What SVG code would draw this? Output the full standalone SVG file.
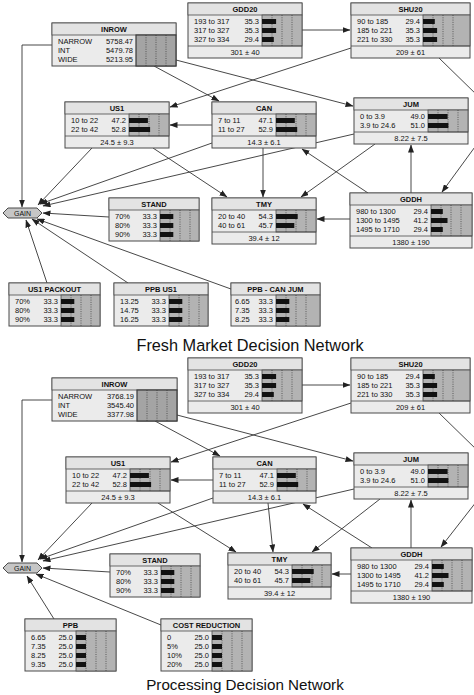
<svg xmlns="http://www.w3.org/2000/svg" width="474" height="695" viewBox="0 0 474 695">
<defs>
<marker id="ah" markerUnits="userSpaceOnUse" markerWidth="8" markerHeight="6" refX="7.5" refY="3" orient="auto"><path d="M0,0 L8,3 L0,6 z" fill="#222"/></marker>
<style>
.box{fill:#ebebeb;stroke:#4a4a4a;stroke-width:1}
.tb{fill:#e3e3e3;stroke:#4a4a4a;stroke-width:0.8}
.ba{fill:#b3b3b3;stroke:#4a4a4a;stroke-width:0.8}
.bu{fill:#a4a4a4;stroke:#3a3a3a;stroke-width:1.2}
.sep{stroke:#4a4a4a;stroke-width:0.8}
.bar{fill:#111}
.dot{stroke:#333;stroke-width:0.7;stroke-dasharray:1 1.3}
.t{font-family:"Liberation Sans",Arial,sans-serif;font-size:7.5px;fill:#111}
.tt{font-weight:bold;text-anchor:middle}
.v{text-anchor:end}
.f{text-anchor:middle}
.cap{font-family:"Liberation Sans",Arial,sans-serif;fill:#111;text-anchor:middle}
.e{fill:none;stroke:#333;stroke-width:0.9;marker-end:url(#ah)}
.hex{fill:#c6c6c6;stroke:#4a4a4a;stroke-width:1}
</style>
</defs>

<g id="connectors">
<path class="e" d="M52,45 H22 V207"/>
<path class="e" d="M154,66 L219,101"/>
<path class="e" d="M176,60 L353,106"/>
<path class="e" d="M351,48 L170,107"/>
<path class="e" d="M302,30 L350,30"/>
<path class="e" d="M438,57 L480,98 L480,140 L442,192"/>
<path class="e" d="M212,125 L170,125"/>
<path class="e" d="M92,148 L38,205"/>
<path class="e" d="M212,143 L40,204"/>
<path class="e" d="M354,134 L43,206"/>
<path class="e" d="M153,148 L227,197"/>
<path class="e" d="M263,148 L263,197"/>
<path class="e" d="M375,144 L301,197"/>
<path class="e" d="M368,193 L302,149"/>
<path class="e" d="M411,193 L411,145"/>
<path class="e" d="M350,219 L317,219"/>
<path class="e" d="M109,217 L43,213"/>
<path class="e" d="M47,283 L26,220"/>
<path class="e" d="M128,283 L32,219"/>
<path class="e" d="M231,289 L37,219"/>

<path class="e" d="M52,400 H22 V562"/>
<path class="e" d="M155,421 L220,456"/>
<path class="e" d="M177,415 L353,461"/>
<path class="e" d="M351,403 L171,462"/>
<path class="e" d="M302,385 L350,385"/>
<path class="e" d="M438,412 L480,453 L480,497 L441,547"/>
<path class="e" d="M213,480 L171,480"/>
<path class="e" d="M92,503 L38,560"/>
<path class="e" d="M213,498 L40,559"/>
<path class="e" d="M354,489 L43,561"/>
<path class="e" d="M158,503 L236,552"/>
<path class="e" d="M268,503 L273,552"/>
<path class="e" d="M380,499 L312,552"/>
<path class="e" d="M372,548 L303,504"/>
<path class="e" d="M411,548 L411,500"/>
<path class="e" d="M351,574 L332,574"/>
<path class="e" d="M110,572 L43,568"/>
<path class="e" d="M54,619 L27,576"/>
<path class="e" d="M161,625 L36,574"/>
</g>

<!-- ===== Fresh Market network ===== -->
<g id="inrow-fresh" transform="translate(52,23)">
<rect class="box" width="124" height="43"/><rect class="tb" width="124" height="12"/>
<text class="t tt" x="62" y="8.8">INROW</text>
<rect class="bu" x="84" y="12" width="40" height="31"/>
<line class="dot" x1="94" y1="12" x2="94" y2="43"/><line class="dot" x1="104" y1="12" x2="104" y2="43"/><line class="dot" x1="114" y1="12" x2="114" y2="43"/>
<text class="t" x="6" y="21.2">NARROW</text><text class="t v" x="81" y="21.2">5758.47</text>
<text class="t" x="6" y="30.2">INT</text><text class="t v" x="81" y="30.2">5479.78</text>
<text class="t" x="6" y="39.2">WIDE</text><text class="t v" x="81" y="39.2">5213.95</text>
</g>

<g id="gdd20-fresh" transform="translate(188,3)">
<rect class="box" width="114" height="55"/><rect class="tb" width="114" height="12"/>
<text class="t tt" x="57" y="8.8">GDD20</text>
<rect class="ba" x="74" y="12" width="40" height="31"/>
<line class="dot" x1="84" y1="12" x2="84" y2="43"/><line class="dot" x1="94" y1="12" x2="94" y2="43"/><line class="dot" x1="104" y1="12" x2="104" y2="43"/>
<rect class="bar" x="74" y="16" width="14.1" height="5"/><rect class="bar" x="74" y="25" width="14.1" height="5"/><rect class="bar" x="74" y="34" width="11.8" height="5"/>
<text class="t" x="6" y="21.2">193 to 317</text><text class="t v" x="71" y="21.2">35.3</text>
<text class="t" x="6" y="30.2">317 to 327</text><text class="t v" x="71" y="30.2">35.3</text>
<text class="t" x="6" y="39.2">327 to 334</text><text class="t v" x="71" y="39.2">29.4</text>
<line class="sep" x1="0" y1="43" x2="114" y2="43"/>
<text class="t f" x="57" y="51.5">301 ± 40</text>
</g>

<g id="shu20-fresh" transform="translate(351,3)">
<rect class="box" width="119" height="55"/><rect class="tb" width="119" height="12"/>
<text class="t tt" x="59.5" y="8.8">SHU20</text>
<rect class="ba" x="72" y="12" width="47" height="31"/>
<line class="dot" x1="82" y1="12" x2="82" y2="43"/><line class="dot" x1="92" y1="12" x2="92" y2="43"/><line class="dot" x1="102" y1="12" x2="102" y2="43"/>
<rect class="bar" x="72" y="16" width="11.8" height="5"/><rect class="bar" x="72" y="25" width="14.1" height="5"/><rect class="bar" x="72" y="34" width="14.1" height="5"/>
<text class="t" x="6" y="21.2">90 to 185</text><text class="t v" x="69" y="21.2">29.4</text>
<text class="t" x="6" y="30.2">185 to 221</text><text class="t v" x="69" y="30.2">35.3</text>
<text class="t" x="6" y="39.2">221 to 330</text><text class="t v" x="69" y="39.2">35.3</text>
<line class="sep" x1="0" y1="43" x2="119" y2="43"/>
<text class="t f" x="59.5" y="51.5">209 ± 61</text>
</g>

<g id="us1-fresh" transform="translate(65,102)">
<rect class="box" width="104" height="46"/><rect class="tb" width="104" height="12"/>
<text class="t tt" x="52" y="8.8">US1</text>
<rect class="ba" x="64" y="12" width="40" height="22"/>
<line class="dot" x1="74" y1="12" x2="74" y2="34"/><line class="dot" x1="84" y1="12" x2="84" y2="34"/><line class="dot" x1="94" y1="12" x2="94" y2="34"/>
<rect class="bar" x="64" y="16" width="18.9" height="5"/><rect class="bar" x="64" y="25" width="21.1" height="5"/>
<text class="t" x="6" y="21.2">10 to 22</text><text class="t v" x="61" y="21.2">47.2</text>
<text class="t" x="6" y="30.2">22 to 42</text><text class="t v" x="61" y="30.2">52.8</text>
<line class="sep" x1="0" y1="34" x2="104" y2="34"/>
<text class="t f" x="52" y="42.5">24.5 ± 9.3</text>
</g>

<g id="can-fresh" transform="translate(212,102)">
<rect class="box" width="104" height="46"/><rect class="tb" width="104" height="12"/>
<text class="t tt" x="52" y="8.8">CAN</text>
<rect class="ba" x="64" y="12" width="40" height="22"/>
<line class="dot" x1="74" y1="12" x2="74" y2="34"/><line class="dot" x1="84" y1="12" x2="84" y2="34"/><line class="dot" x1="94" y1="12" x2="94" y2="34"/>
<rect class="bar" x="64" y="16" width="18.8" height="5"/><rect class="bar" x="64" y="25" width="21.2" height="5"/>
<text class="t" x="6" y="21.2">7 to 11</text><text class="t v" x="61" y="21.2">47.1</text>
<text class="t" x="6" y="30.2">11 to 27</text><text class="t v" x="61" y="30.2">52.9</text>
<line class="sep" x1="0" y1="34" x2="104" y2="34"/>
<text class="t f" x="52" y="42.5">14.3 ± 6.1</text>
</g>

<g id="jum-fresh" transform="translate(354,98)">
<rect class="box" width="114" height="46"/><rect class="tb" width="114" height="12"/>
<text class="t tt" x="57" y="8.8">JUM</text>
<rect class="ba" x="74" y="12" width="40" height="22"/>
<line class="dot" x1="84" y1="12" x2="84" y2="34"/><line class="dot" x1="94" y1="12" x2="94" y2="34"/><line class="dot" x1="104" y1="12" x2="104" y2="34"/>
<rect class="bar" x="74" y="16" width="19.6" height="5"/><rect class="bar" x="74" y="25" width="20.4" height="5"/>
<text class="t" x="6" y="21.2">0 to 3.9</text><text class="t v" x="71" y="21.2">49.0</text>
<text class="t" x="6" y="30.2">3.9 to 24.6</text><text class="t v" x="71" y="30.2">51.0</text>
<line class="sep" x1="0" y1="34" x2="114" y2="34"/>
<text class="t f" x="57" y="42.5">8.22 ± 7.5</text>
</g>

<g id="stand-fresh" transform="translate(109,198)">
<rect class="box" width="90" height="43"/><rect class="tb" width="90" height="12"/>
<text class="t tt" x="45" y="8.8">STAND</text>
<rect class="ba" x="51" y="12" width="39" height="31"/>
<line class="dot" x1="61" y1="12" x2="61" y2="43"/><line class="dot" x1="71" y1="12" x2="71" y2="43"/><line class="dot" x1="81" y1="12" x2="81" y2="43"/>
<rect class="bar" x="51" y="16" width="13.3" height="5"/><rect class="bar" x="51" y="25" width="13.3" height="5"/><rect class="bar" x="51" y="34" width="13.3" height="5"/>
<text class="t" x="6" y="21.2">70%</text><text class="t v" x="48" y="21.2">33.3</text>
<text class="t" x="6" y="30.2">80%</text><text class="t v" x="48" y="30.2">33.3</text>
<text class="t" x="6" y="39.2">90%</text><text class="t v" x="48" y="39.2">33.3</text>
</g>

<g id="tmy-fresh" transform="translate(212,198)">
<rect class="box" width="104" height="46"/><rect class="tb" width="104" height="12"/>
<text class="t tt" x="52" y="8.8">TMY</text>
<rect class="ba" x="64" y="12" width="40" height="22"/>
<line class="dot" x1="74" y1="12" x2="74" y2="34"/><line class="dot" x1="84" y1="12" x2="84" y2="34"/><line class="dot" x1="94" y1="12" x2="94" y2="34"/>
<rect class="bar" x="64" y="16" width="21.7" height="5"/><rect class="bar" x="64" y="25" width="18.3" height="5"/>
<text class="t" x="6" y="21.2">20 to 40</text><text class="t v" x="61" y="21.2">54.3</text>
<text class="t" x="6" y="30.2">40 to 61</text><text class="t v" x="61" y="30.2">45.7</text>
<line class="sep" x1="0" y1="34" x2="104" y2="34"/>
<text class="t f" x="52" y="42.5">39.4 ± 12</text>
</g>

<g id="gddh-fresh" transform="translate(350,193)">
<rect class="box" width="122" height="55"/><rect class="tb" width="122" height="12"/>
<text class="t tt" x="61" y="8.8">GDDH</text>
<rect class="ba" x="81" y="12" width="41" height="31"/>
<line class="dot" x1="91" y1="12" x2="91" y2="43"/><line class="dot" x1="101" y1="12" x2="101" y2="43"/><line class="dot" x1="111" y1="12" x2="111" y2="43"/>
<rect class="bar" x="81" y="16" width="11.8" height="5"/><rect class="bar" x="81" y="25" width="16.5" height="5"/><rect class="bar" x="81" y="34" width="11.8" height="5"/>
<text class="t" x="6" y="21.2">980 to 1300</text><text class="t v" x="78" y="21.2">29.4</text>
<text class="t" x="6" y="30.2">1300 to 1495</text><text class="t v" x="78" y="30.2">41.2</text>
<text class="t" x="6" y="39.2">1495 to 1710</text><text class="t v" x="78" y="39.2">29.4</text>
<line class="sep" x1="0" y1="43" x2="122" y2="43"/>
<text class="t f" x="61" y="51.5">1380 ± 190</text>
</g>

<g id="gain-fresh">
<polygon class="hex" points="3,213 8,208 37,208 42,213 37,218 8,218"/>
<text class="t f" x="22.5" y="215.7" style="font-size:7px">GAIN</text>
</g>

<g id="us1packout-fresh" transform="translate(9,283)">
<rect class="box" width="91" height="43"/><rect class="tb" width="91" height="12"/>
<text class="t tt" x="45.5" y="8.8">US1 PACKOUT</text>
<rect class="ba" x="52" y="12" width="39" height="31"/>
<line class="dot" x1="62" y1="12" x2="62" y2="43"/><line class="dot" x1="72" y1="12" x2="72" y2="43"/><line class="dot" x1="82" y1="12" x2="82" y2="43"/>
<rect class="bar" x="52" y="16" width="13.3" height="5"/><rect class="bar" x="52" y="25" width="13.3" height="5"/><rect class="bar" x="52" y="34" width="13.3" height="5"/>
<text class="t" x="6" y="21.2">70%</text><text class="t v" x="49" y="21.2">33.3</text>
<text class="t" x="6" y="30.2">80%</text><text class="t v" x="49" y="30.2">33.3</text>
<text class="t" x="6" y="39.2">90%</text><text class="t v" x="49" y="39.2">33.3</text>
</g>

<g id="ppbus1-fresh" transform="translate(114,283)">
<rect class="box" width="94" height="43"/><rect class="tb" width="94" height="12"/>
<text class="t tt" x="47" y="8.8">PPB US1</text>
<rect class="ba" x="55" y="12" width="39" height="31"/>
<line class="dot" x1="65" y1="12" x2="65" y2="43"/><line class="dot" x1="75" y1="12" x2="75" y2="43"/><line class="dot" x1="85" y1="12" x2="85" y2="43"/>
<rect class="bar" x="55" y="16" width="13.3" height="5"/><rect class="bar" x="55" y="25" width="13.3" height="5"/><rect class="bar" x="55" y="34" width="13.3" height="5"/>
<text class="t" x="6" y="21.2">13.25</text><text class="t v" x="52" y="21.2">33.3</text>
<text class="t" x="6" y="30.2">14.75</text><text class="t v" x="52" y="30.2">33.3</text>
<text class="t" x="6" y="39.2">16.25</text><text class="t v" x="52" y="39.2">33.3</text>
</g>

<g id="ppbcanjum-fresh" transform="translate(231,283)">
<rect class="box" width="89" height="43"/><rect class="tb" width="89" height="12"/>
<text class="t tt" x="44.5" y="8.8">PPB - CAN JUM</text>
<rect class="ba" x="45" y="12" width="44" height="31"/>
<line class="dot" x1="55" y1="12" x2="55" y2="43"/><line class="dot" x1="65" y1="12" x2="65" y2="43"/><line class="dot" x1="75" y1="12" x2="75" y2="43"/>
<rect class="bar" x="45" y="16" width="13.3" height="5"/><rect class="bar" x="45" y="25" width="13.3" height="5"/><rect class="bar" x="45" y="34" width="13.3" height="5"/>
<text class="t" x="4" y="21.2">6.65</text><text class="t v" x="42" y="21.2">33.3</text>
<text class="t" x="4" y="30.2">7.35</text><text class="t v" x="42" y="30.2">33.3</text>
<text class="t" x="4" y="39.2">8.25</text><text class="t v" x="42" y="39.2">33.3</text>
</g>

<text class="cap" x="250" y="351" style="font-size:16.3px">Fresh Market Decision Network</text>

<!-- ===== Processing network ===== -->
<g id="inrow-proc" transform="translate(52,378)">
<rect class="box" width="125" height="43"/><rect class="tb" width="125" height="12"/>
<text class="t tt" x="62.5" y="8.8">INROW</text>
<rect class="bu" x="85" y="12" width="40" height="31"/>
<line class="dot" x1="95" y1="12" x2="95" y2="43"/><line class="dot" x1="105" y1="12" x2="105" y2="43"/><line class="dot" x1="115" y1="12" x2="115" y2="43"/>
<text class="t" x="6" y="21.2">NARROW</text><text class="t v" x="82" y="21.2">3768.19</text>
<text class="t" x="6" y="30.2">INT</text><text class="t v" x="82" y="30.2">3545.40</text>
<text class="t" x="6" y="39.2">WIDE</text><text class="t v" x="82" y="39.2">3377.98</text>
</g>

<g id="gdd20-proc" transform="translate(188,358)">
<rect class="box" width="114" height="55"/><rect class="tb" width="114" height="12"/>
<text class="t tt" x="57" y="8.8">GDD20</text>
<rect class="ba" x="74" y="12" width="40" height="31"/>
<line class="dot" x1="84" y1="12" x2="84" y2="43"/><line class="dot" x1="94" y1="12" x2="94" y2="43"/><line class="dot" x1="104" y1="12" x2="104" y2="43"/>
<rect class="bar" x="74" y="16" width="14.1" height="5"/><rect class="bar" x="74" y="25" width="14.1" height="5"/><rect class="bar" x="74" y="34" width="11.8" height="5"/>
<text class="t" x="6" y="21.2">193 to 317</text><text class="t v" x="71" y="21.2">35.3</text>
<text class="t" x="6" y="30.2">317 to 327</text><text class="t v" x="71" y="30.2">35.3</text>
<text class="t" x="6" y="39.2">327 to 334</text><text class="t v" x="71" y="39.2">29.4</text>
<line class="sep" x1="0" y1="43" x2="114" y2="43"/>
<text class="t f" x="57" y="51.5">301 ± 40</text>
</g>

<g id="shu20-proc" transform="translate(351,358)">
<rect class="box" width="119" height="55"/><rect class="tb" width="119" height="12"/>
<text class="t tt" x="59.5" y="8.8">SHU20</text>
<rect class="ba" x="72" y="12" width="47" height="31"/>
<line class="dot" x1="82" y1="12" x2="82" y2="43"/><line class="dot" x1="92" y1="12" x2="92" y2="43"/><line class="dot" x1="102" y1="12" x2="102" y2="43"/>
<rect class="bar" x="72" y="16" width="11.8" height="5"/><rect class="bar" x="72" y="25" width="14.1" height="5"/><rect class="bar" x="72" y="34" width="14.1" height="5"/>
<text class="t" x="6" y="21.2">90 to 185</text><text class="t v" x="69" y="21.2">29.4</text>
<text class="t" x="6" y="30.2">185 to 221</text><text class="t v" x="69" y="30.2">35.3</text>
<text class="t" x="6" y="39.2">221 to 330</text><text class="t v" x="69" y="39.2">35.3</text>
<line class="sep" x1="0" y1="43" x2="119" y2="43"/>
<text class="t f" x="59.5" y="51.5">209 ± 61</text>
</g>

<g id="us1-proc" transform="translate(66,457)">
<rect class="box" width="104" height="46"/><rect class="tb" width="104" height="12"/>
<text class="t tt" x="52" y="8.8">US1</text>
<rect class="ba" x="64" y="12" width="40" height="22"/>
<line class="dot" x1="74" y1="12" x2="74" y2="34"/><line class="dot" x1="84" y1="12" x2="84" y2="34"/><line class="dot" x1="94" y1="12" x2="94" y2="34"/>
<rect class="bar" x="64" y="16" width="18.9" height="5"/><rect class="bar" x="64" y="25" width="21.1" height="5"/>
<text class="t" x="6" y="21.2">10 to 22</text><text class="t v" x="61" y="21.2">47.2</text>
<text class="t" x="6" y="30.2">22 to 42</text><text class="t v" x="61" y="30.2">52.8</text>
<line class="sep" x1="0" y1="34" x2="104" y2="34"/>
<text class="t f" x="52" y="42.5">24.5 ± 9.3</text>
</g>

<g id="can-proc" transform="translate(213,457)">
<rect class="box" width="103" height="46"/><rect class="tb" width="103" height="12"/>
<text class="t tt" x="51.5" y="8.8">CAN</text>
<rect class="ba" x="64" y="12" width="39" height="22"/>
<line class="dot" x1="74" y1="12" x2="74" y2="34"/><line class="dot" x1="84" y1="12" x2="84" y2="34"/><line class="dot" x1="94" y1="12" x2="94" y2="34"/>
<rect class="bar" x="64" y="16" width="18.8" height="5"/><rect class="bar" x="64" y="25" width="21.2" height="5"/>
<text class="t" x="6" y="21.2">7 to 11</text><text class="t v" x="61" y="21.2">47.1</text>
<text class="t" x="6" y="30.2">11 to 27</text><text class="t v" x="61" y="30.2">52.9</text>
<line class="sep" x1="0" y1="34" x2="103" y2="34"/>
<text class="t f" x="51.5" y="42.5">14.3 ± 6.1</text>
</g>

<g id="jum-proc" transform="translate(354,453)">
<rect class="box" width="114" height="46"/><rect class="tb" width="114" height="12"/>
<text class="t tt" x="57" y="8.8">JUM</text>
<rect class="ba" x="74" y="12" width="40" height="22"/>
<line class="dot" x1="84" y1="12" x2="84" y2="34"/><line class="dot" x1="94" y1="12" x2="94" y2="34"/><line class="dot" x1="104" y1="12" x2="104" y2="34"/>
<rect class="bar" x="74" y="16" width="19.6" height="5"/><rect class="bar" x="74" y="25" width="20.4" height="5"/>
<text class="t" x="6" y="21.2">0 to 3.9</text><text class="t v" x="71" y="21.2">49.0</text>
<text class="t" x="6" y="30.2">3.9 to 24.6</text><text class="t v" x="71" y="30.2">51.0</text>
<line class="sep" x1="0" y1="34" x2="114" y2="34"/>
<text class="t f" x="57" y="42.5">8.22 ± 7.5</text>
</g>

<g id="stand-proc" transform="translate(110,554)">
<rect class="box" width="90" height="43"/><rect class="tb" width="90" height="12"/>
<text class="t tt" x="45" y="8.8">STAND</text>
<rect class="ba" x="51" y="12" width="39" height="31"/>
<line class="dot" x1="61" y1="12" x2="61" y2="43"/><line class="dot" x1="71" y1="12" x2="71" y2="43"/><line class="dot" x1="81" y1="12" x2="81" y2="43"/>
<rect class="bar" x="51" y="16" width="13.3" height="5"/><rect class="bar" x="51" y="25" width="13.3" height="5"/><rect class="bar" x="51" y="34" width="13.3" height="5"/>
<text class="t" x="6" y="21.2">70%</text><text class="t v" x="48" y="21.2">33.3</text>
<text class="t" x="6" y="30.2">80%</text><text class="t v" x="48" y="30.2">33.3</text>
<text class="t" x="6" y="39.2">90%</text><text class="t v" x="48" y="39.2">33.3</text>
</g>

<g id="tmy-proc" transform="translate(228,553)">
<rect class="box" width="103" height="46"/><rect class="tb" width="103" height="12"/>
<text class="t tt" x="51.5" y="8.8">TMY</text>
<rect class="ba" x="64" y="12" width="39" height="22"/>
<line class="dot" x1="74" y1="12" x2="74" y2="34"/><line class="dot" x1="84" y1="12" x2="84" y2="34"/><line class="dot" x1="94" y1="12" x2="94" y2="34"/>
<rect class="bar" x="64" y="16" width="21.7" height="5"/><rect class="bar" x="64" y="25" width="18.3" height="5"/>
<text class="t" x="6" y="21.2">20 to 40</text><text class="t v" x="61" y="21.2">54.3</text>
<text class="t" x="6" y="30.2">40 to 61</text><text class="t v" x="61" y="30.2">45.7</text>
<line class="sep" x1="0" y1="34" x2="103" y2="34"/>
<text class="t f" x="51.5" y="42.5">39.4 ± 12</text>
</g>

<g id="gddh-proc" transform="translate(351,548)">
<rect class="box" width="121" height="55"/><rect class="tb" width="121" height="12"/>
<text class="t tt" x="60.5" y="8.8">GDDH</text>
<rect class="ba" x="81" y="12" width="40" height="31"/>
<line class="dot" x1="91" y1="12" x2="91" y2="43"/><line class="dot" x1="101" y1="12" x2="101" y2="43"/><line class="dot" x1="111" y1="12" x2="111" y2="43"/>
<rect class="bar" x="81" y="16" width="11.8" height="5"/><rect class="bar" x="81" y="25" width="16.5" height="5"/><rect class="bar" x="81" y="34" width="11.8" height="5"/>
<text class="t" x="6" y="21.2">980 to 1300</text><text class="t v" x="78" y="21.2">29.4</text>
<text class="t" x="6" y="30.2">1300 to 1495</text><text class="t v" x="78" y="30.2">41.2</text>
<text class="t" x="6" y="39.2">1495 to 1710</text><text class="t v" x="78" y="39.2">29.4</text>
<line class="sep" x1="0" y1="43" x2="121" y2="43"/>
<text class="t f" x="60.5" y="51.5">1380 ± 190</text>
</g>

<g id="gain-proc">
<polygon class="hex" points="3,568 8,563 37,563 42,568 37,573 8,573"/>
<text class="t f" x="22.5" y="570.7" style="font-size:7px">GAIN</text>
</g>

<g id="ppb-proc" transform="translate(25,619)">
<rect class="box" width="91" height="52"/><rect class="tb" width="91" height="12"/>
<text class="t tt" x="45.5" y="8.8">PPB</text>
<rect class="ba" x="51" y="12" width="40" height="40"/>
<line class="dot" x1="61" y1="12" x2="61" y2="52"/><line class="dot" x1="71" y1="12" x2="71" y2="52"/><line class="dot" x1="81" y1="12" x2="81" y2="52"/>
<rect class="bar" x="51" y="16" width="10" height="5"/><rect class="bar" x="51" y="25" width="10" height="5"/><rect class="bar" x="51" y="34" width="10" height="5"/><rect class="bar" x="51" y="43" width="10" height="5"/>
<text class="t" x="6" y="21.2">6.65</text><text class="t v" x="48" y="21.2">25.0</text>
<text class="t" x="6" y="30.2">7.35</text><text class="t v" x="48" y="30.2">25.0</text>
<text class="t" x="6" y="39.2">8.25</text><text class="t v" x="48" y="39.2">25.0</text>
<text class="t" x="6" y="48.2">9.35</text><text class="t v" x="48" y="48.2">25.0</text>
</g>

<g id="costreduction-proc" transform="translate(161,619)">
<rect class="box" width="91" height="52"/><rect class="tb" width="91" height="12"/>
<text class="t tt" x="45.5" y="8.8">COST REDUCTION</text>
<rect class="ba" x="51" y="12" width="40" height="40"/>
<line class="dot" x1="61" y1="12" x2="61" y2="52"/><line class="dot" x1="71" y1="12" x2="71" y2="52"/><line class="dot" x1="81" y1="12" x2="81" y2="52"/>
<rect class="bar" x="51" y="16" width="10" height="5"/><rect class="bar" x="51" y="25" width="10" height="5"/><rect class="bar" x="51" y="34" width="10" height="5"/><rect class="bar" x="51" y="43" width="10" height="5"/>
<text class="t" x="6" y="21.2">0</text><text class="t v" x="48" y="21.2">25.0</text>
<text class="t" x="6" y="30.2">5%</text><text class="t v" x="48" y="30.2">25.0</text>
<text class="t" x="6" y="39.2">10%</text><text class="t v" x="48" y="39.2">25.0</text>
<text class="t" x="6" y="48.2">20%</text><text class="t v" x="48" y="48.2">25.0</text>
</g>

<text class="cap" x="245" y="690" style="font-size:15.2px">Processing Decision Network</text>
</svg>
